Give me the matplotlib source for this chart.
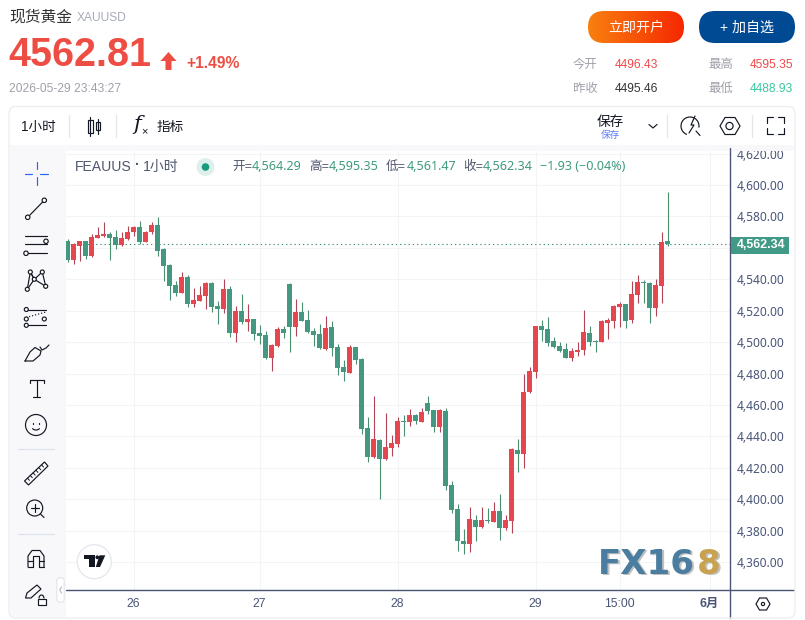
import numpy as np
import matplotlib
matplotlib.use('Agg')
import matplotlib.pyplot as plt
from matplotlib.patches import Circle, FancyBboxPatch, Polygon, Rectangle, Arc

W, H = 805, 620
plt.rcParams['font.family'] = ['Liberation Sans', 'Noto Sans CJK SC', 'DejaVu Sans']

# hourly candles
opens = [4564.4, 4552.3, 4561.2, 4564.4, 4554.8, 4566.3, 4567.5, 4568.8, 4566.9, 4561.8,
         4565.6, 4570.1, 4573.3, 4563.7, 4570.1, 4574.5, 4559.3, 4549.1, 4536.3, 4531.2,
         4541.4, 4524.2, 4526.2, 4529.3, 4537.6, 4523.0, 4521.1, 4533.8, 4505.8, 4519.8,
         4512.8, 4514.7, 4505.8, 4504.5, 4489.9, 4497.5, 4508.3, 4537.0, 4509.6, 4519.2,
         4514.1, 4507.1, 4505.2, 4495.6, 4509.6, 4496.9, 4484.1, 4480.3, 4496.9, 4489.2,
         4445.3, 4426.8, 4437.7, 4425.6, 4432.6, 4435.2, 4449.8, 4449.2, 4453.6, 4449.2,
         4461.3, 4456.8, 4446.0, 4456.2, 4409.0, 4393.8, 4373.4, 4371.5, 4386.8, 4382.3,
         4386.8, 4385.5, 4392.5, 4381.7, 4386.1, 4431.3, 4428.8, 4468.2, 4481.0, 4510.2,
         4508.3, 4500.7, 4497.5, 4495.6, 4489.9, 4493.7, 4495.0, 4505.8, 4500.7, 4500.1,
         4512.2, 4513.4, 4522.3, 4524.2, 4514.1, 4530.0, 4538.3, 4537.6, 4521.7, 4535.7,
         4564.29]
closes = [4552.3, 4562.5, 4564.4, 4554.8, 4566.9, 4568.2, 4568.8, 4566.3, 4561.8, 4566.3,
          4570.1, 4573.3, 4563.7, 4570.1, 4574.5, 4558.0, 4548.4, 4535.7, 4531.2, 4541.4,
          4524.2, 4526.8, 4530.0, 4537.6, 4522.3, 4521.1, 4533.8, 4505.8, 4519.8, 4512.8,
          4514.7, 4505.2, 4503.9, 4489.9, 4498.1, 4508.3, 4505.8, 4509.6, 4519.2, 4513.4,
          4506.4, 4504.5, 4496.2, 4509.0, 4496.2, 4483.5, 4481.0, 4496.9, 4488.6, 4444.7,
          4426.8, 4438.3, 4425.6, 4433.2, 4435.8, 4449.8, 4449.2, 4453.6, 4449.8, 4455.5,
          4456.2, 4446.0, 4456.8, 4408.4, 4393.1, 4373.4, 4371.5, 4387.4, 4382.3, 4386.8,
          4386.1, 4392.5, 4381.7, 4386.8, 4432.0, 4428.8, 4468.3, 4481.6, 4510.2, 4507.7,
          4499.4, 4496.9, 4494.3, 4489.9, 4494.3, 4495.0, 4506.4, 4500.1, 4500.1, 4513.4,
          4514.1, 4523.0, 4524.2, 4513.4, 4530.6, 4538.3, 4537.6, 4521.7, 4536.3, 4563.7,
          4562.34]
highs = [4565.4, 4563.1, 4564.4, 4564.4, 4568.8, 4573.3, 4576.5, 4570.1, 4571.4, 4570.1,
         4573.9, 4573.9, 4577.1, 4570.7, 4576.5, 4579.6, 4559.9, 4549.7, 4538.9, 4544.6,
         4542.7, 4534.4, 4535.7, 4538.3, 4538.3, 4526.2, 4540.2, 4535.7, 4523.0, 4530.6,
         4524.3, 4514.7, 4510.9, 4507.1, 4498.8, 4509.6, 4510.2, 4537.6, 4527.4, 4525.5,
         4520.4, 4509.0, 4511.5, 4516.6, 4513.4, 4498.8, 4488.6, 4498.1, 4496.9, 4489.9,
         4452.3, 4465.7, 4438.3, 4454.9, 4440.8, 4452.3, 4453.6, 4457.4, 4454.3, 4458.1,
         4465.7, 4456.8, 4457.4, 4458.1, 4411.6, 4397.0, 4381.0, 4395.0, 4389.9, 4395.0,
         4394.4, 4398.2, 4403.3, 4389.9, 4432.6, 4438.3, 4479.7, 4484.2, 4510.2, 4514.1,
         4516.0, 4503.2, 4500.1, 4499.4, 4496.2, 4500.1, 4520.4, 4510.2, 4501.3, 4514.1,
         4515.3, 4523.6, 4525.5, 4524.2, 4538.9, 4542.7, 4539.5, 4538.3, 4540.2, 4570.1,
         4595.35]
lows = [4551.0, 4549.7, 4551.6, 4552.9, 4554.2, 4566.3, 4566.9, 4552.3, 4559.3, 4561.4,
        4565.0, 4567.5, 4562.5, 4563.7, 4568.8, 4554.8, 4538.9, 4526.8, 4529.3, 4531.2,
        4522.3, 4522.3, 4526.2, 4521.1, 4519.2, 4511.5, 4518.5, 4503.2, 4500.1, 4511.5,
        4507.1, 4501.3, 4498.8, 4489.2, 4481.6, 4496.9, 4502.6, 4493.7, 4503.9, 4513.4,
        4505.8, 4497.5, 4495.6, 4495.0, 4491.1, 4479.0, 4475.2, 4480.3, 4486.1, 4441.5,
        4423.7, 4426.2, 4400.1, 4424.9, 4427.5, 4433.2, 4440.2, 4446.6, 4447.9, 4449.2,
        4454.3, 4442.8, 4442.8, 4405.9, 4391.2, 4367.0, 4365.1, 4366.4, 4373.4, 4381.7,
        4384.9, 4385.5, 4374.0, 4380.4, 4378.5, 4417.3, 4419.9, 4467.6, 4477.1, 4500.7,
        4497.5, 4496.2, 4493.7, 4489.9, 4488.0, 4491.1, 4491.8, 4497.5, 4493.7, 4500.1,
        4502.0, 4509.0, 4509.6, 4509.0, 4512.2, 4524.9, 4524.9, 4512.2, 4516.6, 4524.9,
        4561.47]
is_up = [False, True, True, False, True, True, True, False, False, True,
         True, True, False, True, True, False, False, False, False, True,
         False, True, True, True, False, False, True, False, True, False,
         True, False, False, False, True, True, False, False, True, False,
         False, False, False, True, False, False, False, True, False, False,
         False, True, False, True, True, True, False, True, False, True,
         False, False, True, False, False, False, False, True, False, True,
         False, True, False, True, True, False, True, True, True, False,
         False, False, False, False, True, True, True, False, False, True,
         True, True, True, False, True, True, False, False, True, True,
         False]

price_ticks = [4360, 4380, 4400, 4420, 4440, 4460, 4480, 4500, 4520, 4540, 4560, 4580, 4600, 4620]
date_ticks = [11, 32, 55, 78, 92, 107]
date_labels = ['26', '27', '28', '29', '15:00', '6月']
last_close = 4562.34

GREEN = '#449882'
GREEN_WICK = '#4c8f6e'
RED = '#e6474f'
RED_WICK = '#b04558'
INK = '#131722'
AXIS = '#4a5578'
GRID = '#f3f4f6'

fig = plt.figure(figsize=(W / 100, H / 100), dpi=100, facecolor='white')

# candle chart, placed by pixel position
ax = fig.add_axes([66 / W, 1 - 590 / H, (730 - 66) / W, (590 - 148) / H], zorder=1)
ax.set_xlim((66 - 67.5) / 6, (730 - 67.5) / 6)
ax.set_ylim(4360 - 28 / 1.5705, 4360 + 414 / 1.5705)
ax.grid(True, color=GRID, lw=0.75)
ax.set_axisbelow(True)
for s in ax.spines.values():
    s.set_visible(False)

xs = np.arange(len(opens))
o, c, hi, lo = map(np.array, (opens, closes, highs, lows))
up = np.array(is_up)
ax.vlines(xs[up], lo[up], hi[up], color=RED_WICK, lw=0.8, zorder=2)
ax.vlines(xs[~up], lo[~up], hi[~up], color=GREEN_WICK, lw=0.8, zorder=2)
ax.bar(xs[up], c[up] - o[up], bottom=o[up], width=5.2 / 6, color=RED, lw=0, zorder=3)
ax.bar(xs[~up], c[~up] - o[~up], bottom=o[~up], width=5.2 / 6, color=GREEN, lw=0, zorder=3)
ax.axhline(last_close, color='#3f8f78', lw=0.8, ls=(0, (1.2, 2.6)), zorder=1.5)

ax.yaxis.tick_right()
ax.set_yticks(price_ticks)
ax.set_yticklabels(['' if p == 4560 else f'{p:,.2f}' for p in price_ticks],
                   family='Noto Sans', fontsize=8.6, color=AXIS)
ax.set_xticks(date_ticks)
ax.set_xticklabels(date_labels, fontsize=8.8, color=AXIS)
ax.get_xticklabels()[-1].set_fontweight('bold')
ax.tick_params(axis='y', length=0, pad=5.2)
ax.tick_params(axis='x', length=0, pad=5.5)

# page furniture in pixel coordinates
ov = fig.add_axes([0, 0, 1, 1], zorder=2)
ov.set_xlim(0, W)
ov.set_ylim(H, 0)
ov.axis('off')
ov.patch.set_alpha(0)


def T(x, y, s, px, color=INK, ha='left', **kw):
    return ov.text(x, y + 1, s, fontsize=px * 0.72, color=color, ha=ha, va='center', **kw)


def L(xs, ys, color=INK, lw=0.85, **kw):
    ov.plot(xs, ys, color=color, lw=lw, solid_capstyle='round', **kw)


def dot(x, y, r=2.2, color=INK, lw=0.85):
    ov.add_patch(Circle((x, y), r, fc='white', ec=color, lw=lw, zorder=5))


def button(x0, x1, y0, y1, colors):
    clip = FancyBboxPatch((x0 + 16, y0 + 16), x1 - x0 - 32, y1 - y0 - 32,
                          boxstyle='round,pad=16', fc='none', ec='none')
    ov.add_patch(clip)
    grad = np.linspace(0, 1, 100)[None, :, None]
    c0, c1 = [np.array(matplotlib.colors.to_rgb(k)) for k in colors]
    im = ov.imshow(c0 * (1 - grad) + c1 * grad, extent=(x0, x1, y1, y0), aspect='auto', zorder=1)
    im.set_clip_path(clip)


# header
T(9, 16, '现货黄金', 15.8, '#333333')
T(77, 17, 'XAUUSD', 12, '#a8acb8')
T(8, 54, '4562.81', 39.5, '#ee4d44', fontweight='bold')
ov.add_patch(Polygon([(168.5, 52), (176.5, 61), (171.5, 61), (171.5, 70), (165.5, 70), (165.5, 61), (160.5, 61)],
                     fc='#ee4d44', ec='none'))
T(186, 62, '+1.49%', 15.6, '#ee4d44', fontweight='bold')
T(9, 88, '2026-05-29 23:43:27', 12, '#a0a0aa')

button(588, 684, 11, 43, ('#f9800f', '#f52800'))
button(699, 795, 11, 43, ('#004a94', '#004a94'))
T(636, 27, '立即开户', 14, 'white', ha='center')
T(747, 27, '+ 加自选', 14, 'white', ha='center')

for x, y, s in [(573, 64, '今开'), (708, 64, '最高'), (573, 88, '昨收'), (708, 88, '最低')]:
    T(x, y, s, 12.4, '#a0a0aa')
T(615, 64, '4496.43', 12, '#f0494a')
T(750, 64, '4595.35', 12, '#f0494a')
T(615, 88, '4495.46', 12, '#333333')
T(750, 88, '4488.93', 12, '#3cc8a0')

# card and tool strips
ov.add_patch(FancyBboxPatch((9, 106.5), 786, 511.5, boxstyle='round,pad=0,rounding_size=7',
                            fc='none', ec='#eceef2', lw=1, zorder=6))
ov.add_patch(Rectangle((10, 145), 784, 6, fc='#f8f8fa', ec='none'))
ov.add_patch(Rectangle((10, 145), 56, 472, fc='#f8f8fa', ec='none'))
L([66, 794], [590, 590], AXIS, 1)
L([730, 730], [148, 618], AXIS, 1)
for x in (69, 116, 667, 752):
    L([x, x], [115, 137], '#e4e6ec', 0.9)
for y in (449, 534):
    L([18, 54], [y, y], '#dfe2ec', 0.9)

T(21, 126, '1小时', 13.6, INK)
T(157, 126, '指标', 13.6, INK)
T(610.5, 121, '保存', 13.6, INK, ha='center')
T(610.5, 134, '保存', 9.6, '#5b7cff', ha='center')
L([649, 653, 657], [124.5, 128, 124.5])

# candle icon
L([90, 90], [117, 136])
ov.add_patch(Rectangle((87.5, 120), 5, 13, fc='white', ec=INK, lw=0.85))
L([97.5, 97.5], [119, 134])
ov.add_patch(Rectangle((95.5, 122), 4, 8, fc='white', ec=INK, lw=0.85))
# fx icon
T(133, 124, 'f', 21, INK, family='DejaVu Serif', fontstyle='italic')
T(141, 130, '×', 11, INK)
# alert, settings, fullscreen icons
ov.add_patch(Arc((690, 126), 18, 18, theta1=110, theta2=10, ec=INK, lw=0.85))
L([695, 691, 694, 689], [116, 125, 125, 133])
L([696, 700], [131, 135.5])
hexa = [(720, 126), (725, 117.5), (735, 117.5), (740, 126), (735, 134.5), (725, 134.5)]
ov.add_patch(Polygon(hexa, fc='none', ec=INK, lw=0.85))
ov.add_patch(Circle((729.5, 126), 3.6, fc='none', ec=INK, lw=0.85))
for x0, x1, y0, y1 in [(767, 773, 117, 123), (784, 778, 117, 123), (767, 773, 134, 128), (784, 778, 134, 128)]:
    L([x0, x1], [y0, y0])
    L([x0, x0], [y0, y1])

# left toolbar icons
blue = '#2962ff'
L([25, 32], [173.5, 173.5], blue)
L([40, 48], [173.5, 173.5], blue)
L([36.5, 36.5], [162, 169], blue)
L([36.5, 36.5], [177, 185], blue)

L([27.7, 44.3], [217.3, 200.3])
dot(27.7, 217.3)
dot(44.3, 200.3)

for y in (236, 244, 253):
    L([25, 47], [y, y])
dot(46, 241.3)
dot(26, 253.3)

px_ = [27.3, 30.3, 34.3, 42.3, 45.7]
py_ = [289.3, 272, 279.3, 272, 286.3]
L(px_, py_)
L([27.3, 34.3], [289.3, 279.3])
L([30.3, 34.3, 45.7], [272, 279.3, 286.3])
for x, y in zip(px_, py_):
    dot(x, y, 2)

L([26, 46], [309.5, 309.5])
L([26, 46], [325.3, 325.3])
L([26, 46], [317.5, 312], ls=':')
dot(26.3, 309.5, 2)
dot(26.3, 319, 2)
dot(26.3, 325.3, 2)
dot(44.3, 319, 2)

L([25, 30, 35, 41, 40, 33, 25], [361, 352, 347.5, 351, 355, 361, 361])
L([40, 42, 46, 49], [347, 350, 348, 345])

L([29.5, 43.5], [380, 380])
L([29.5, 29.5], [380, 383])
L([43.5, 43.5], [380, 383])
L([36.5, 36.5], [380, 397])
L([33, 40], [397, 397])

ov.add_patch(Circle((36, 425), 10.5, fc='none', ec=INK, lw=0.85))
L([33, 33], [422.5, 423.5])
L([39, 39], [422.5, 423.5])
ov.add_patch(Arc((36, 427), 8, 6, theta1=20, theta2=160, ec=INK, lw=0.85))

ov.add_patch(Polygon([(24.5, 481), (44.5, 462), (48, 466), (28.5, 485)], fc='none', ec=INK, lw=0.85))
for t in np.linspace(0.15, 0.85, 6):
    mx, my = 24.5 + 20 * t, 481 - 19 * t
    L([mx, mx + 2], [my, my + 2.2], lw=0.7)

ov.add_patch(Circle((34.7, 508), 8, fc='none', ec=INK, lw=0.85))
L([31, 38.5], [508, 508])
L([34.7, 34.7], [504.3, 511.7])
L([40.5, 44], [514, 517.5])

L([28, 28, 32, 40, 44, 44], [567, 556, 550.5, 550.5, 556, 567])
L([33, 33, 39, 39], [567, 556, 556, 567])
L([28, 33], [567, 567])
L([39, 44], [567, 567])
L([28, 33], [561, 561])
L([39, 44], [561, 561])

ov.add_patch(Polygon([(25.5, 598), (27, 593), (37, 585), (41, 589), (31, 598)], fc='none', ec=INK, lw=0.85))
ov.add_patch(Rectangle((37.5, 598.5), 8, 6.5, fc='white', ec=INK, lw=0.85))
ov.add_patch(Arc((41.5, 598.5), 5, 7, theta1=180, theta2=360, ec=INK, lw=0.85))

ov.add_patch(FancyBboxPatch((58, 579), 5, 22, boxstyle='round,pad=1.2,rounding_size=3', fc='white', ec='#e4e6ec', lw=0.9))
L([61.5, 59.7, 61.5], [587, 590, 593], '#b8bcc8')

# legend row
T(75, 166, 'FEAUUS', 14, '#50566e')
T(134.5, 164, '·', 14, '#50566e', fontweight='bold')
T(142.5, 166, '1小时', 14, '#50566e')
ov.add_patch(Circle((205.5, 167), 9, fc='#dff0ec', ec='none'))
ov.add_patch(Circle((205.5, 167), 3.8, fc='#1a9a80', ec='none'))
val_font = dict(family='Noto Sans')
for x, lab, vx, val in [(232, '开=', 252, '4,564.29'), (309, '高=', 329, '4,595.35'),
                        (386, '低=', 407, '4,561.47'), (463, '收=', 483, '4,562.34')]:
    T(x, 166, lab, 12.6, '#50566e')
    T(vx, 166, val, 12.6, '#3f9a7e', **val_font)
T(540, 166, '−1.93 (−0.04%)', 12.6, '#3f9a7e', **val_font)

# last price label
ov.add_patch(Rectangle((731, 237), 58, 16.5, fc='#409a85', ec='none', zorder=5))
T(737, 244.5, f'{last_close:,.2f}', 12.4, 'white', fontweight='bold', zorder=6)

# settings icon on the time axis
hex2 = [(756, 604), (759.5, 598), (766.5, 598), (770, 604), (766.5, 610), (759.5, 610)]
ov.add_patch(Polygon(hex2, fc='none', ec=INK, lw=0.85))
ov.add_patch(Circle((763, 604), 1.6, fc='none', ec=INK, lw=0.85))

# tradingview badge
ov.add_patch(Circle((94.3, 561.7), 17, fc='white', ec='#e6e8f0', lw=1, zorder=5))
ov.add_patch(Polygon([(84, 555.3), (94.7, 555.3), (94.7, 567), (89.3, 567), (89.3, 559), (84, 559)],
                     fc=INK, ec='none', zorder=6))
ov.add_patch(Circle((97.3, 557.3), 1.9, fc=INK, ec='none', zorder=6))
ov.add_patch(Polygon([(99.5, 555.3), (105.3, 555.3), (100, 567), (95.8, 567)], fc=INK, ec='none', zorder=6))

# watermark
for dx, col, gold, a in [(1.5, '#666666', '#666666', 0.4), (0, '#4a7da0', '#c8a24e', 1)]:
    T(598 + dx, 563 + dx, 'FX16', 34, col, family='DejaVu Sans', fontweight='bold', alpha=a, zorder=7)
    T(697 + dx, 563 + dx, '8', 34, gold, family='DejaVu Sans', fontweight='bold', alpha=a, zorder=7)

ov.set_xlim(0, W)
ov.set_ylim(H, 0)
fig.savefig('out.png', dpi=100)
